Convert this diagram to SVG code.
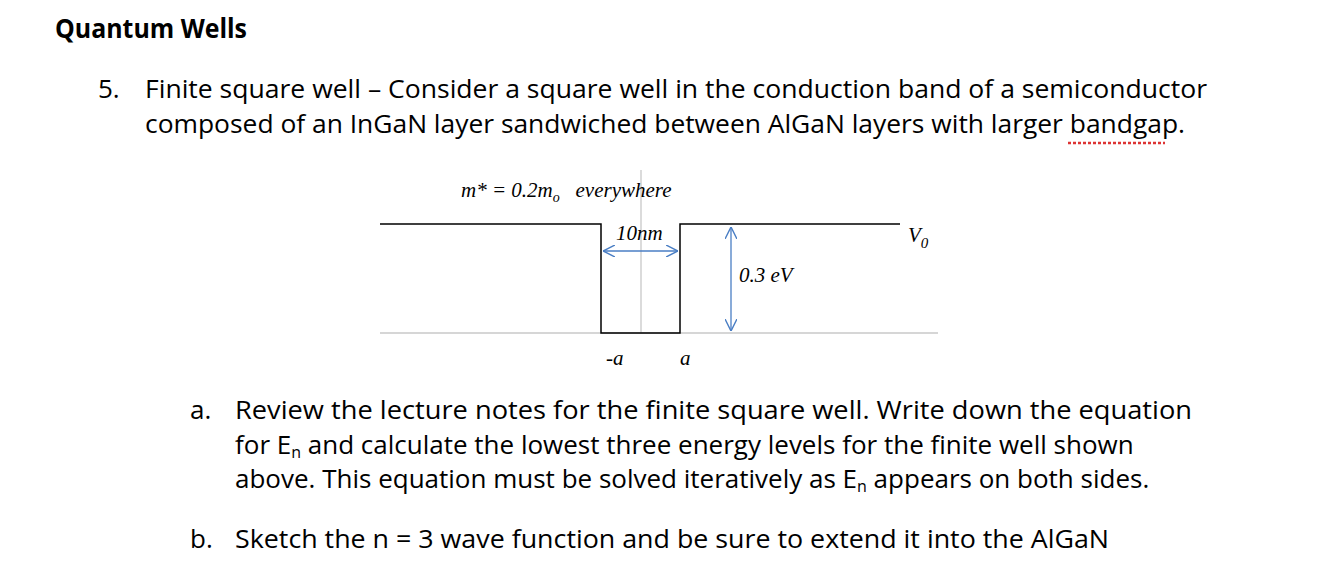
<svg xmlns="http://www.w3.org/2000/svg" width="1332" height="588" viewBox="0 0 1332 588">
<style>
.t{font-family:"Open Sans","DejaVu Sans",sans-serif;font-size:26px;fill:#000}
.m{font-family:"Liberation Serif",serif;font-style:italic;font-size:21px;fill:#000}
.bl{stroke:#4a7ec4;stroke-width:1.3;fill:none}
</style>
<defs><marker id="a" viewBox="0 0 10 10" refX="10" refY="5" markerWidth="12" markerHeight="12" markerUnits="userSpaceOnUse" orient="auto-start-reverse"><path d="M0,0L10,5L0,10" fill="none" stroke="#4a7ec4" stroke-width="1.2"/></marker></defs>
<rect width="1332" height="588" fill="#fff"/>
<g id="text">
<text x="55" y="38" class="t" font-weight="bold" textLength="192" lengthAdjust="spacingAndGlyphs">Quantum Wells</text>
<text x="98" y="98" class="t">5.</text>
<text x="145" y="98" class="t" textLength="1062" lengthAdjust="spacingAndGlyphs">Finite square well – Consider a square well in the conduction band of a semiconductor</text>
<text x="145" y="133" class="t" textLength="1040" lengthAdjust="spacingAndGlyphs">composed of an InGaN layer sandwiched between AlGaN layers with larger bandgap.</text>
<line x1="1068" y1="143" x2="1165" y2="143" stroke="#d33" stroke-width="2.5" stroke-dasharray="3,2"/>
<text x="190" y="419" class="t">a.</text>
<text x="235" y="419" class="t" textLength="957" lengthAdjust="spacingAndGlyphs">Review the lecture notes for the finite square well.  Write down the equation</text>
<text x="235" y="454" class="t" font-size="27.5">for E<tspan font-size="16" dy="4">n</tspan><tspan dy="-4"> and calculate the lowest three energy levels for the finite well shown</tspan></text>
<text x="235" y="488" class="t" font-size="27.4">above.  This equation must be solved iteratively as E<tspan font-size="16" dy="4">n</tspan><tspan dy="-4"> appears on both sides.</tspan></text>
<text x="190" y="548" class="t">b.</text>
<text x="235" y="548" class="t" textLength="874" lengthAdjust="spacingAndGlyphs">Sketch the n = 3 wave function and be sure to extend it into the AlGaN</text>
</g>
<g id="axes">
<line x1="641" y1="170" x2="641" y2="333" stroke="#c8c8c8" stroke-width="1.3"/>
<line x1="380" y1="333" x2="938" y2="333" stroke="#c8c8c8" stroke-width="1.5"/>
</g>
<g id="well"><path d="M380,224H601V333H680V224H900" fill="none" stroke="#000" stroke-width="1.5"/></g>
<g id="connectors">
<line x1="603" y1="251" x2="678" y2="251" class="bl" marker-start="url(#a)" marker-end="url(#a)"/>
<line x1="731" y1="227" x2="731" y2="331" class="bl" marker-start="url(#a)" marker-end="url(#a)"/>
</g>
<g id="labels">
<text x="461" y="197" class="m">m* = 0.2m<tspan font-size="14" dy="5">o</tspan><tspan dy="-5" xml:space="preserve">   everywhere</tspan></text>
<text x="616" y="240" class="m">10nm</text>
<text x="739" y="282" class="m">0.3 eV</text>
<text x="908" y="242" class="m" font-size="23">V<tspan font-size="15" dy="6">0</tspan></text>
<text x="606" y="365" class="m" font-size="23">-a</text>
<text x="680" y="365" class="m" font-size="23">a</text>
</g>
</svg>
